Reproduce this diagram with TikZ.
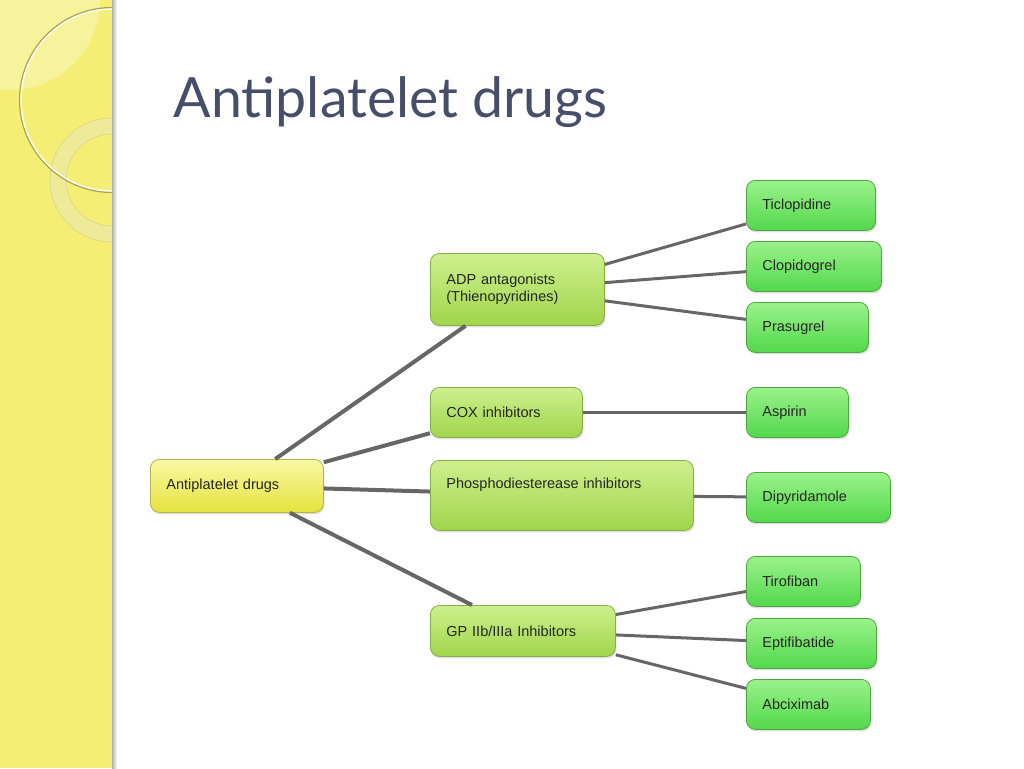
\documentclass[tikz,border=0pt]{standalone}
\usepackage{fontspec}
\setmainfont{Liberation Sans}
\newfontfamily\titlefont{Lato}
\usepackage{tikz}
\usetikzlibrary{shadows}
\usetikzlibrary{positioning}
\usetikzlibrary{calc}

\definecolor{panelyellow}{HTML}{F4EE74}
\definecolor{ringedge}{HTML}{B0A44E}
\definecolor{ringfill}{HTML}{EEE9A0}
\definecolor{titleblue}{HTML}{464E6A}
\definecolor{linkgray}{HTML}{666666}
\definecolor{leaftop}{HTML}{9AF28A}
\definecolor{leafbottom}{HTML}{52D84C}
\definecolor{leafedge}{HTML}{4FA53E}
\definecolor{midtop}{HTML}{CDF08E}
\definecolor{midbottom}{HTML}{A0D54A}
\definecolor{midedge}{HTML}{87AE45}
\definecolor{roottop}{HTML}{F8F8A4}
\definecolor{rootbottom}{HTML}{E5E33E}
\definecolor{rootedge}{HTML}{B5B246}

\begin{document}
\begin{tikzpicture}
  [x=1pt,y=-1pt,
  box/.style={rounded corners=9pt,thick,anchor=north west,align=left,inner xsep=16pt,inner ysep=4pt,
    minimum height=50pt,font=\fontsize{14.5}{17}\selectfont,text=black!85,
    drop shadow={opacity=0.25,shadow xshift=1pt,shadow yshift=-2pt}},
  leaf/.style={box,draw=leafedge,top color=leaftop,bottom color=leafbottom},
  mid/.style={box,draw=midedge,top color=midtop,bottom color=midbottom},
  rootbox/.style={box,draw=rootedge,top color=roottop,bottom color=rootbottom},
  link/.style={linkgray,line width=4pt},
  sublink/.style={linkgray,line width=3pt}]

  \fill[white] (0,0) rectangle (1024,768);
  \useasboundingbox (0,0) rectangle (1024,768);

  % side panel
  \fill[panelyellow] (0,0) rectangle (112,768);
  \begin{scope}
    \clip (0,0) rectangle (112,768);
    \fill[white,opacity=0.3] (10,0) circle (90pt);
    \fill[ringfill,opacity=0.8,even odd rule] (112,180) circle (62pt) (112,180) circle (46pt);
    \draw[ringedge!60,thin] (112,180) circle (62pt) (112,180) circle (46pt);
    \draw[white,line width=1.5pt] (112,100) circle (91pt);
    \draw[ringedge,line width=1.2pt] (112,100) circle (92.5pt);
  \end{scope}
  \fill[left color=black!30,right color=white] (112,0) rectangle (117,768);

  \node[anchor=base west,font=\titlefont\fontsize{55.5}{62}\selectfont,text=titleblue] (title) at (170,117) {Antiplatelet drugs};

  \node[rootbox,text width=141pt,minimum height=53pt] (root) at (150,459) {Antiplatelet drugs};

  \node[mid,text width=142pt,minimum height=72pt] (adp) at (430,253) {ADP antagonists\\(Thienopyridines)};
  \node[mid,text width=120pt] (cox) at (430,387) {COX inhibitors};
  \node[mid,text width=231pt,minimum height=70pt,text depth=24pt] (pde) at (430,460) {Phosphodiesterease inhibitors};
  \node[mid,text width=153pt,minimum height=51pt] (gp) at (430,605) {GP IIb/IIIa Inhibitors};

  \node[leaf,text width=97pt] (ticlo) at (746,180) {Ticlopidine};
  \node[leaf,text width=103pt] (clopi) at (746,241) {Clopidogrel};
  \node[leaf,text width=90pt] (prasu) at (746,302) {Prasugrel};
  \node[leaf,text width=70pt] (asp) at (746,387) {Aspirin};
  \node[leaf,text width=112pt] (dipy) at (746,472) {Dipyridamole};
  \node[leaf,text width=82pt] (tiro) at (746,556) {Tirofiban};
  \node[leaf,text width=98pt] (epti) at (746,618) {Eptifibatide};
  \node[leaf,text width=92pt] (abci) at (746,679) {Abciximab};

  \draw[link] (root) -- (adp);
  \draw[link] (root) -- (cox);
  \draw[link] (root) -- (pde);
  \draw[link] (root) -- (gp);

  \draw[sublink] (adp) -- (ticlo);
  \draw[sublink] (adp) -- (clopi);
  \draw[sublink] (adp) -- (prasu);
  \draw[sublink] (cox) -- (asp);
  \draw[sublink] (pde) -- (dipy);
  \draw[sublink] (gp) -- (tiro);
  \draw[sublink] (gp) -- (epti);
  \draw[sublink] (gp) -- (abci);
\end{tikzpicture}
\end{document}
